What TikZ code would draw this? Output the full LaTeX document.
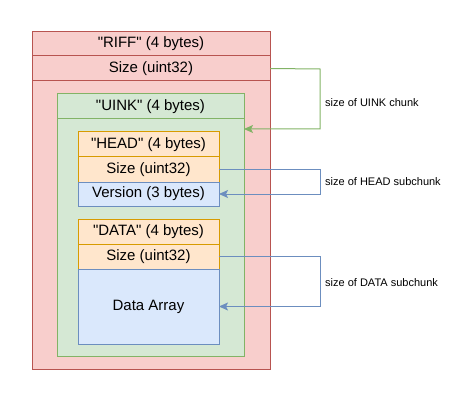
\documentclass[tikz,border=0pt]{standalone}
\usepackage{fontspec}
\setmainfont{Liberation Sans}
\usetikzlibrary{positioning,arrows.meta}
\definecolor{redfill}{HTML}{F8CECC}
\definecolor{redline}{HTML}{B85450}
\definecolor{greenfill}{HTML}{D5E8D4}
\definecolor{greenline}{HTML}{82B366}
\definecolor{orangefill}{HTML}{FFE6CC}
\definecolor{orangeline}{HTML}{D79B00}
\definecolor{bluefill}{HTML}{DAE8FC}
\definecolor{blueline}{HTML}{6C8EBF}
\newcommand{\qt}[1]{\textquotedbl#1\textquotedbl}

\begin{document}
\begin{tikzpicture}[x=1pt, y=-1pt,
	box/.style={rectangle, inner sep=0pt, outer sep=0pt, line width=1pt,
	font=\fontsize{15}{17}\selectfont},
	rbox/.style={box, fill=redfill, draw=redline, minimum width=238pt, minimum height=25pt},
	gbox/.style={box, fill=greenfill, draw=greenline, minimum width=187pt, minimum height=25pt},
	obox/.style={box, fill=orangefill, draw=orangeline, minimum width=141pt, minimum height=25pt},
	bbox/.style={box, fill=bluefill, draw=blueline, minimum width=141pt, minimum height=25pt},
	link/.style={line width=1pt, -{Stealth[length=9pt,width=8pt,inset=2pt]}},
	note/.style={anchor=west, inner sep=0pt, font=\fontsize{11}{13}\selectfont}
	]
	\useasboundingbox (0,0) rectangle (474,401);
	
	% RIFF chunk
	\node[rbox, minimum height=337pt] (riffbox) at (151,200.5) {};
	\node[rbox, minimum height=24pt] (riff) at (151,44) {\qt{RIFF} (4 bytes)};
	\node[rbox] (rsize) [below=0pt of riff] {Size (uint32)};
	
	% UINK chunk
	\node[gbox, minimum height=262pt] (uinkbox) at (150.5,225) {};
	\node[gbox] (uink) at (150.5,106.5) {\qt{UINK} (4 bytes)};
	
	% HEAD subchunk
	\node[obox] (head) at (148.5,144.5) {\qt{HEAD} (4 bytes)};
	\node[obox] (hsize) [below=0pt of head] {Size (uint32)};
	\node[bbox, minimum height=24pt] (version) [below=0pt of hsize] {Version (3 bytes)};
	
	% DATA subchunk
	\node[obox] (data) at (148.5,231.5) {\qt{DATA} (4 bytes)};
	\node[obox] (dsize) [below=0pt of data] {Size (uint32)};
	\node[bbox, minimum height=75pt] (array) [below=0pt of dsize] {Data Array};
	
	% size links
	\coordinate (c1) at (320,69);
	\coordinate (c2) at (320,129);
	\draw[link, draw=greenline] (rsize.east) -- (c1) -- (c2) -- (uinkbox.east |- c2);
	\node[note] (n1) at (325,103) {size of UINK chunk};
	
	\coordinate (c3) at (320,169.5);
	\coordinate (c4) at (320,194);
	\draw[link, draw=blueline] (hsize.east) -- (c3) -- (c4) -- (version.east);
	\node[note] (n2) at (325,182) {size of HEAD subchunk};
	
	\coordinate (c5) at (320,256.5);
	\coordinate (c6) at (320,306.5);
	\draw[link, draw=blueline] (dsize.east) -- (c5) -- (c6) -- (array.east);
	\node[note] (n3) at (325,283) {size of DATA subchunk};
\end{tikzpicture}
\end{document}
